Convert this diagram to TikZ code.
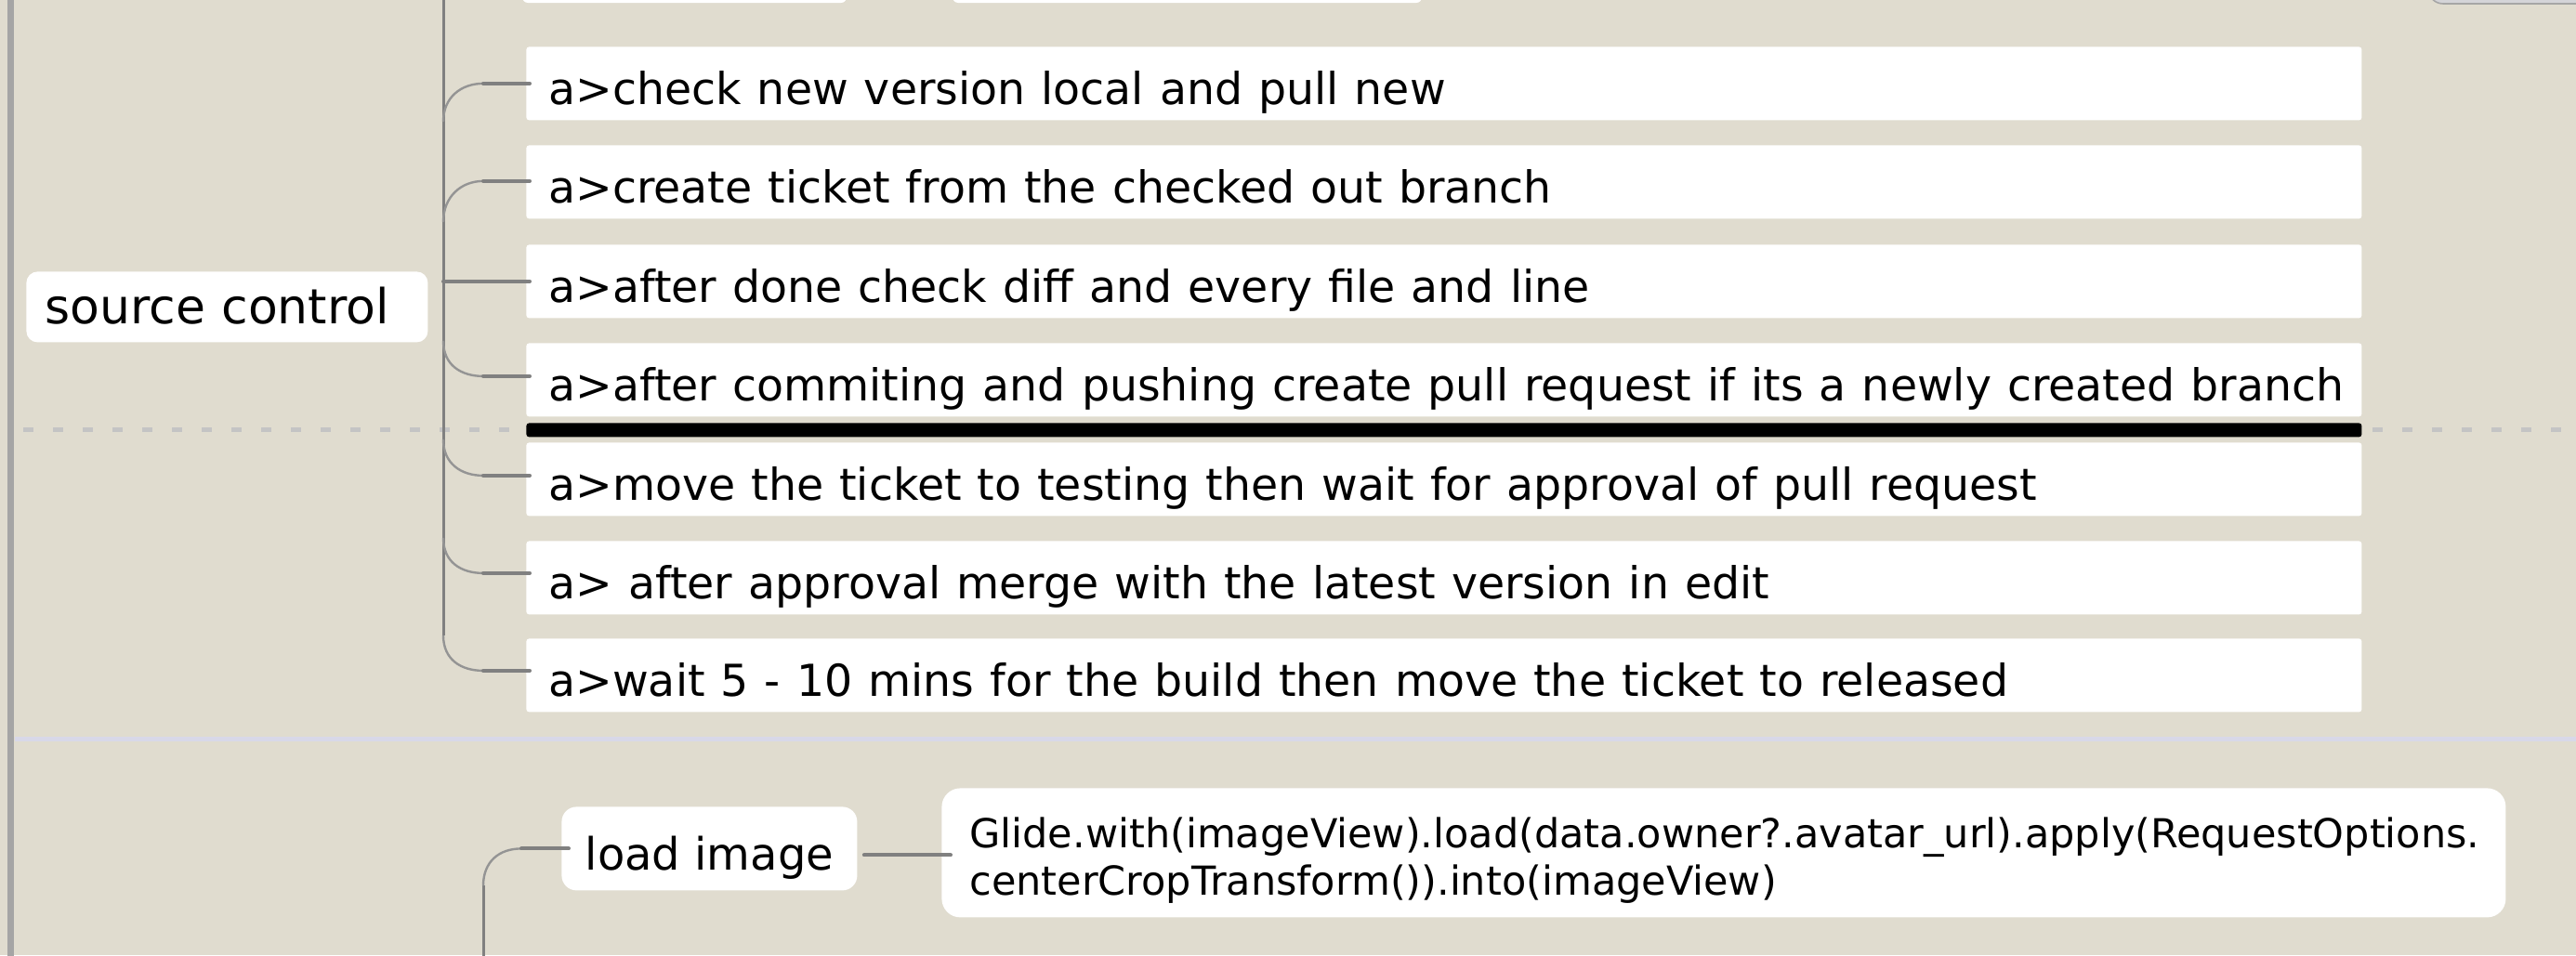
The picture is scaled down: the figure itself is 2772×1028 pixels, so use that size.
\documentclass[tikz,border=0pt]{standalone}
\usepackage{fontspec}
\setmainfont{DejaVu Sans}
\newfontfamily\itemfont{DejaVu Sans}[WordSpace=1.13]
\usetikzlibrary{calc}
\definecolor{bg}{HTML}{E0DCCF}
\definecolor{conn}{HTML}{808080}
\definecolor{connlight}{HTML}{949494}
\definecolor{dotc}{HTML}{C4C4C4}
\definecolor{sepc}{HTML}{D8D8E8}
\definecolor{barc}{HTML}{A5A5A5}
\definecolor{topgray}{HTML}{D4D4D8}
\tikzset{
  itembox/.style={fill=white, rounded corners=1.5pt, anchor=north west,
    inner xsep=12pt, inner ysep=0pt,
    execute at begin node={\hbox to 963.5pt\bgroup},
    execute at end node={\hss\egroup},
    text height=31pt, text depth=8.5pt, font=\itemfont\fontsize{23.7}{28}\selectfont},
  rootbox/.style={fill=white, rounded corners=6pt, anchor=north west,
    inner xsep=10pt, inner ysep=0pt, text width=196pt, align=left,
    text height=28pt, text depth=10pt, font=\fontsize{26}{30}\selectfont},
  subbox/.style={fill=white, rounded corners=8pt, anchor=north west,
    inner xsep=0pt, inner ysep=0pt, minimum width=159pt,
    text height=34pt, text depth=11pt, font=\fontsize{24}{28}\selectfont},
  codebox/.style={fill=white, rounded corners=10pt, anchor=north west,
    inner xsep=15pt, inner ysep=0pt, text width=811.5pt, align=left,
    text height=32pt, text depth=37.5pt, font=\fontsize{21.5}{25.5}\selectfont},
  trunk/.style={draw=conn, line width=1.5pt},
  stub/.style={draw=conn, line width=2pt, line cap=round},
  curvec/.style={draw=connlight, line width=1.2pt},
}
\begin{document}
\begin{tikzpicture}[x=0.5pt, y=-0.5pt]
\useasboundingbox (0,0) rectangle (2772,1028);
\clip (0,0) rectangle (2772,1028);
\fill[bg] (0,0) rectangle (2772,1028);
% left bar
\fill[barc] (8,-5) rectangle (15,1040);
% partially visible boxes at top
\fill[white, rounded corners=3pt] (562,-40) rectangle (911,3);
\fill[white, rounded corners=3pt] (1025,-40) rectangle (1530,3);
\filldraw[fill=topgray, draw=gray!70, line width=0.8pt, rounded corners=8pt] (2613,-40) rectangle (2800,4);
% dotted separator
\draw[dotc, line width=2.5pt, dash pattern=on 5.5pt off 10.5pt] (25,462) -- (2772,462);
% section separator
\fill[sepc] (16,793) rectangle (2772,798);

% nodes
\node[rootbox] (root) at (28,292) {source control};
\node[itembox] (b1) at (566,50) {a>check new version local and pull new};
\node[itembox] (b2) at (566,156) {a>create ticket from the checked out branch};
\node[itembox] (b3) at (566,263) {a>after done check diff and every file and line};
\node[itembox] (b4) at (566,369) {a>after commiting and pushing create pull request if its a newly created branch};
\node[fill=black, rounded corners=1.5pt, anchor=north west, inner sep=0pt,
  minimum width=987.5pt, minimum height=7.5pt] (bar) at (566,455) {};
\node[itembox] (b5) at (566,476) {a>move the ticket to testing then wait for approval of pull request};
\node[itembox] (b6) at (566,582) {a> after approval merge with the latest version in edit};
\node[itembox] (b7) at (566,687) {a>wait 5 - 10 mins for the build then move the ticket to released};

\node[subbox] (load) at (604,868) {load image};
\node[codebox] (glide) at (1013,848) {\mbox{Glide.with(imageView).load(data.owner?.avatar\_url).apply(RequestOptions.}\\\mbox{centerCropTransform()).into(imageView)}};

% trunk
\coordinate (ttop) at (477,-5);
\coordinate (tbot) at ($(b7.west)+(-89,-43)$);
\draw[trunk] (ttop) -- (tbot);

% upper branches
\draw[curvec] ($(b1.west)+(-89,41)$) .. controls +(0,-26) and +(-24,0) .. ($(b1.west)+(-46,0)$);
\draw[stub] ($(b1.west)+(-46,0)$) -- ($(b1.west)+(4,0)$);
\draw[curvec] ($(b2.west)+(-89,43)$) .. controls +(0,-27) and +(-24,0) .. ($(b2.west)+(-46,-1)$);
\draw[stub] ($(b2.west)+(-46,-1)$) -- ($(b2.west)+(4,-1)$);
% middle branch
\draw[stub] ($(b3.west)+(-89,0)$) -- ($(b3.west)+(4,0)$);
% lower branches
\draw[curvec] ($(b4.west)+(-89,-42)$) .. controls +(0,26) and +(-24,0) .. ($(b4.west)+(-46,-4)$);
\draw[stub] ($(b4.west)+(-46,-4)$) -- ($(b4.west)+(4,-4)$);
\draw[curvec] ($(b5.west)+(-89,-43)$) .. controls +(0,26) and +(-24,0) .. ($(b5.west)+(-46,-4)$);
\draw[stub] ($(b5.west)+(-46,-4)$) -- ($(b5.west)+(4,-4)$);
\draw[curvec] ($(b6.west)+(-89,-43)$) .. controls +(0,26) and +(-24,0) .. ($(b6.west)+(-46,-5)$);
\draw[stub] ($(b6.west)+(-46,-5)$) -- ($(b6.west)+(4,-5)$);
\draw[curvec] (tbot) .. controls +(0,26) and +(-24,0) .. ($(b7.west)+(-46,-5)$);
\draw[stub] ($(b7.west)+(-46,-5)$) -- ($(b7.west)+(4,-5)$);

% lower section
\coordinate (lbot) at (520,1040);
\draw[trunk] (lbot) -- ($(load.west)+(-84,40)$);
\draw[curvec] ($(load.west)+(-84,40)$) .. controls +(0,-26) and +(-24,0) .. ($(load.west)+(-43,0)$);
\draw[stub] ($(load.west)+(-43,0)$) -- ($(load.west)+(8,0)$);
\draw[stub] ($(load.east)+(7,7)$) -- ($(glide.west)+(10,2.5)$);
\end{tikzpicture}
\end{document}
